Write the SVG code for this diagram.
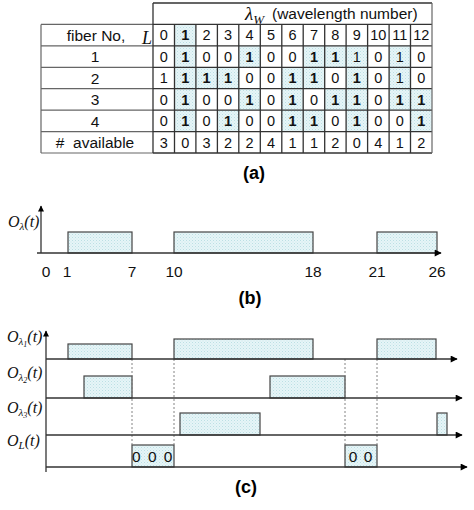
<svg xmlns="http://www.w3.org/2000/svg" width="474" height="510" viewBox="0 0 474 510">
<defs>
<pattern id="dots" width="3" height="3" patternUnits="userSpaceOnUse">
<rect width="3" height="3" fill="#e6f5f7"/>
<rect width="1" height="1" fill="#bcdfe4"/>
<rect x="1.5" y="1.5" width="1" height="1" fill="#cde8ec"/>
</pattern>
<marker id="arr" viewBox="0 0 10 10" refX="9" refY="5" markerWidth="9" markerHeight="7" markerUnits="userSpaceOnUse" orient="auto">
<path d="M0,0 L10,5 L0,10 z" fill="#000"/>
</marker>
<marker id="arrUp" viewBox="0 0 10 10" refX="9" refY="5" markerWidth="7" markerHeight="6" markerUnits="userSpaceOnUse" orient="auto">
<path d="M0,0 L10,5 L0,10 z" fill="#000"/>
</marker>
</defs>
<style>
.n{font-family:"Liberation Sans",Arial,sans-serif;font-size:14.5px;text-anchor:middle;fill:#111}
.lbl{font-family:"Liberation Sans",Arial,sans-serif;font-size:15.5px;text-anchor:middle;fill:#111}
.cap{font-family:"Liberation Sans",Arial,sans-serif;font-size:18px;font-weight:bold;text-anchor:middle;fill:#000}
.it{font-family:"Liberation Serif","Times New Roman",serif;font-style:italic;fill:#111}
.sh{fill:url(#dots)}
.grid{stroke:#333;stroke-width:1.3;fill:none}
.grid2{stroke:#666;stroke-width:1.2;fill:none}
.pulse{fill:url(#dots);stroke:#444;stroke-width:1.2}
.ax{stroke:#333;stroke-width:1.3;fill:none}
.dash{stroke:#777;stroke-width:0.9;stroke-dasharray:2,2;fill:none}
</style>

<g id="table-a">
<g id="shading">
<rect class="sh" x="174.5" y="24.4" width="21.4" height="21.5"/>
<rect class="sh" x="174.5" y="45.9" width="21.4" height="21.4"/>
<rect class="sh" x="238.8" y="45.9" width="21.5" height="21.4"/>
<rect class="sh" x="303.2" y="45.9" width="64.4" height="21.4"/>
<rect class="sh" x="389.1" y="45.9" width="21.4" height="21.4"/>
<rect class="sh" x="174.5" y="67.3" width="64.3" height="21.4"/>
<rect class="sh" x="281.8" y="67.3" width="42.9" height="21.4"/>
<rect class="sh" x="346.1" y="67.3" width="21.5" height="21.4"/>
<rect class="sh" x="389.1" y="67.3" width="21.4" height="21.4"/>
<rect class="sh" x="174.5" y="88.7" width="21.4" height="21.4"/>
<rect class="sh" x="238.8" y="88.7" width="21.5" height="21.4"/>
<rect class="sh" x="281.8" y="88.7" width="21.4" height="21.4"/>
<rect class="sh" x="324.7" y="88.7" width="42.9" height="21.4"/>
<rect class="sh" x="389.1" y="88.7" width="42.9" height="21.4"/>
<rect class="sh" x="174.5" y="110.1" width="21.4" height="21.5"/>
<rect class="sh" x="217.4" y="110.1" width="21.4" height="21.5"/>
<rect class="sh" x="281.8" y="110.1" width="42.9" height="21.5"/>
<rect class="sh" x="346.1" y="110.1" width="21.5" height="21.5"/>
<rect class="sh" x="410.5" y="110.1" width="21.5" height="21.5"/>
</g>
<g id="gridlines">
<path class="grid2" d="M41,24.4 H153 M41,45.9 H153 M41,67.3 H153 M41,88.7 H153 M41,110.1 H153 M41,131.6 H153 M41,153 H153 M41,24.4 V153"/>
<path class="grid" d="M153,3 H432 M153,24.4 H432 M153,45.9 H432 M153,67.3 H432 M153,88.7 H432 M153,110.1 H432 M153,131.6 H432 M153,153 H432"/>
<path class="grid" d="M153,3 V153 M174.5,24.4 V153 M195.9,24.4 V153 M217.4,24.4 V153 M238.8,24.4 V153 M260.3,24.4 V153 M281.8,24.4 V153 M303.2,24.4 V153 M324.7,24.4 V153 M346.1,24.4 V153 M367.6,24.4 V153 M389.1,24.4 V153 M410.5,24.4 V153"/>
<path class="grid2" d="M432,3 V153"/>
</g>
<g id="header">
<text x="245" y="20" class="it" font-size="19">λ<tspan font-size="13" dy="4">W</tspan></text>
<text x="272" y="19" class="lbl" style="text-anchor:start">(wavelength number)</text>
<text x="96" y="41" class="lbl">fiber No,</text>
<text x="142" y="44" class="it" font-size="18">L</text>
<text x="95" y="62" class="lbl">1</text>
<text x="95" y="84" class="lbl">2</text>
<text x="95" y="105" class="lbl">3</text>
<text x="95" y="127" class="lbl">4</text>
<text x="95" y="148" class="lbl"># &#160;available</text>
</g>
<g id="cells">
<text y="40.3" class="n"><tspan x="163.7">0</tspan><tspan x="185.2" font-weight="bold">1</tspan><tspan x="206.6">2</tspan><tspan x="228.1">3</tspan><tspan x="249.6">4</tspan><tspan x="271">5</tspan><tspan x="292.5">6</tspan><tspan x="314">7</tspan><tspan x="335.4">8</tspan><tspan x="356.9">9</tspan><tspan x="378.3">10</tspan><tspan x="399.8">11</tspan><tspan x="421.2">12</tspan></text>
<text y="61.8" class="n"><tspan x="163.7">0</tspan><tspan x="185.2" font-weight="bold">1</tspan><tspan x="206.6">0</tspan><tspan x="228.1">0</tspan><tspan x="249.6" font-weight="bold">1</tspan><tspan x="271">0</tspan><tspan x="292.5">0</tspan><tspan x="314" font-weight="bold">1</tspan><tspan x="335.4" font-weight="bold">1</tspan><tspan x="356.9">1</tspan><tspan x="378.3">0</tspan><tspan x="399.8">1</tspan><tspan x="421.2">0</tspan></text>
<text y="83.2" class="n"><tspan x="163.7">1</tspan><tspan x="185.2" font-weight="bold">1</tspan><tspan x="206.6" font-weight="bold">1</tspan><tspan x="228.1" font-weight="bold">1</tspan><tspan x="249.6">0</tspan><tspan x="271">0</tspan><tspan x="292.5" font-weight="bold">1</tspan><tspan x="314" font-weight="bold">1</tspan><tspan x="335.4">0</tspan><tspan x="356.9" font-weight="bold">1</tspan><tspan x="378.3">0</tspan><tspan x="399.8">1</tspan><tspan x="421.2">0</tspan></text>
<text y="104.6" class="n"><tspan x="163.7">0</tspan><tspan x="185.2" font-weight="bold">1</tspan><tspan x="206.6">0</tspan><tspan x="228.1">0</tspan><tspan x="249.6" font-weight="bold">1</tspan><tspan x="271">0</tspan><tspan x="292.5" font-weight="bold">1</tspan><tspan x="314">0</tspan><tspan x="335.4" font-weight="bold">1</tspan><tspan x="356.9" font-weight="bold">1</tspan><tspan x="378.3">0</tspan><tspan x="399.8" font-weight="bold">1</tspan><tspan x="421.2" font-weight="bold">1</tspan></text>
<text y="126.1" class="n"><tspan x="163.7">0</tspan><tspan x="185.2" font-weight="bold">1</tspan><tspan x="206.6">0</tspan><tspan x="228.1" font-weight="bold">1</tspan><tspan x="249.6">0</tspan><tspan x="271">0</tspan><tspan x="292.5" font-weight="bold">1</tspan><tspan x="314" font-weight="bold">1</tspan><tspan x="335.4">0</tspan><tspan x="356.9" font-weight="bold">1</tspan><tspan x="378.3">0</tspan><tspan x="399.8">0</tspan><tspan x="421.2" font-weight="bold">1</tspan></text>
<text y="147.5" class="n"><tspan x="163.7">3</tspan><tspan x="185.2">0</tspan><tspan x="206.6">3</tspan><tspan x="228.1">2</tspan><tspan x="249.6">2</tspan><tspan x="271">4</tspan><tspan x="292.5">1</tspan><tspan x="314">1</tspan><tspan x="335.4">2</tspan><tspan x="356.9">0</tspan><tspan x="378.3">4</tspan><tspan x="399.8">1</tspan><tspan x="421.2">2</tspan></text>
</g>
<text x="254" y="179" class="cap">(a)</text>
</g>

<g id="chart-b">
<rect class="pulse" x="68" y="232" width="64" height="21"/>
<rect class="pulse" x="174" y="232" width="139" height="21"/>
<rect class="pulse" x="377" y="232" width="60" height="21"/>
<path class="ax" d="M41,253 V206" marker-end="url(#arrUp)"/>
<path class="ax" d="M37,253 H441" marker-end="url(#arr)"/>
<text x="8" y="227" class="it" font-size="16">O<tspan font-size="11" dy="3">λ</tspan><tspan dy="-3">(t)</tspan></text>
<g class="lbl">
<text x="46" y="277">0</text>
<text x="67" y="277">1</text>
<text x="132" y="277">7</text>
<text x="174" y="277">10</text>
<text x="313" y="277">18</text>
<text x="377" y="277">21</text>
<text x="437" y="277">26</text>
</g>
<text x="250" y="304" class="cap">(b)</text>
</g>

<g id="chart-c">
<rect class="pulse" x="68" y="344" width="64" height="15"/>
<rect class="pulse" x="174" y="339" width="139" height="20"/>
<rect class="pulse" x="377" y="339" width="59" height="20"/>
<rect class="pulse" x="84" y="376" width="48" height="22"/>
<rect class="pulse" x="270" y="376" width="75" height="22"/>
<rect class="pulse" x="180" y="413" width="80" height="22"/>
<rect class="pulse" x="437" y="413" width="10" height="22"/>
<rect class="pulse" x="132" y="445" width="42" height="22"/>
<rect class="pulse" x="345" y="445" width="32" height="22"/>
<path class="dash" d="M132,359 V445 M174,359 V445 M345,359 V445 M377,359 V445"/>
<path class="ax" d="M46,472 V331" marker-end="url(#arrUp)"/>
<path class="ax" stroke="#666" d="M46,359 H457" marker-end="url(#arr)"/>
<path class="ax" d="M46,398 H462" marker-end="url(#arr)"/>
<path class="ax" d="M46,435 H462" marker-end="url(#arr)"/>
<path class="ax" stroke="#666" d="M46,467 H467" marker-end="url(#arr)"/>
<text x="7" y="342" class="it" font-size="16">O<tspan font-size="11" dy="3">λ</tspan><tspan font-size="8" dy="2">1</tspan><tspan dy="-5">(t)</tspan></text>
<text x="7" y="378" class="it" font-size="16">O<tspan font-size="11" dy="3">λ</tspan><tspan font-size="8" dy="2">2</tspan><tspan dy="-5">(t)</tspan></text>
<text x="7" y="413" class="it" font-size="16">O<tspan font-size="11" dy="3">λ</tspan><tspan font-size="8" dy="2">3</tspan><tspan dy="-5">(t)</tspan></text>
<text x="7" y="446" class="it" font-size="16">O<tspan font-size="11" dy="3">L</tspan><tspan dy="-3">(t)</tspan></text>
<text x="153" y="462" class="lbl" letter-spacing="1.5">0 0 0</text>
<text x="361" y="462" class="lbl" letter-spacing="1">0 0</text>
<text x="246" y="493" class="cap">(c)</text>
</g>
</svg>
